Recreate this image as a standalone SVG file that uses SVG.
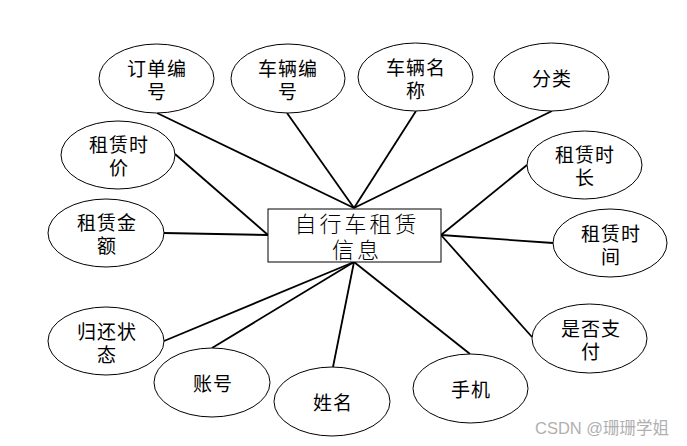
<svg xmlns="http://www.w3.org/2000/svg" width="687" height="446" viewBox="0 0 687 446">
<style>
.e{fill:#fff;stroke:#000;stroke-width:1}
.t{font-family:"Noto Sans CJK SC","Liberation Sans",sans-serif;font-size:19px;fill:#000;text-anchor:middle;dominant-baseline:central;letter-spacing:1px}
.c{font-family:"Noto Sans CJK SC","Liberation Sans",sans-serif;font-size:22px;font-weight:300;fill:#000;text-anchor:middle;dominant-baseline:central;letter-spacing:3px}
.l{stroke:#000;stroke-width:1.8;fill:none}
.w{font-family:"Liberation Sans","Noto Sans CJK SC",sans-serif;font-size:16.5px;fill:#b0b0b0;dominant-baseline:central}
</style>
<rect width="687" height="446" fill="#fff"/>
<g id="connectors">
<line class="l" x1="157" y1="113" x2="354" y2="208"/>
<line class="l" x1="287" y1="113" x2="354" y2="208"/>
<line class="l" x1="416" y1="111" x2="354" y2="208"/>
<line class="l" x1="552" y1="111" x2="354" y2="208"/>
<line class="l" x1="175" y1="154" x2="268" y2="235"/>
<line class="l" x1="164" y1="233" x2="268" y2="235"/>
<line class="l" x1="164" y1="341" x2="354" y2="262"/>
<line class="l" x1="212" y1="348" x2="354" y2="262"/>
<line class="l" x1="333" y1="367" x2="354" y2="262"/>
<line class="l" x1="470" y1="354" x2="354" y2="262"/>
<line class="l" x1="527" y1="165" x2="441" y2="235"/>
<line class="l" x1="553" y1="243" x2="441" y2="235"/>
<line class="l" x1="532" y1="337" x2="441" y2="235"/>
</g>
<g id="center">
<rect x="268" y="209" width="173" height="53" fill="#fff" stroke="#000" stroke-width="1"/>
<text class="c"><tspan x="357" y="221.5">自行车租赁</tspan><tspan x="357" y="247.5">信息</tspan></text>
</g>
<g id="n1"><ellipse class="e" cx="156.5" cy="78.5" rx="57.5" ry="34.5"/><text class="t"><tspan x="157" y="66.5">订单编</tspan><tspan x="157" y="90">号</tspan></text></g>
<g id="n2"><ellipse class="e" cx="288" cy="78.5" rx="57" ry="34.5"/><text class="t"><tspan x="288" y="66.5">车辆编</tspan><tspan x="288" y="90">号</tspan></text></g>
<g id="n3"><ellipse class="e" cx="415.5" cy="77" rx="57.5" ry="34"/><text class="t"><tspan x="416" y="65.5">车辆名</tspan><tspan x="416" y="88.5">称</tspan></text></g>
<g id="n4"><ellipse class="e" cx="551.5" cy="77" rx="57.5" ry="34"/><text class="t" x="552" y="77">分类</text></g>
<g id="n5"><ellipse class="e" cx="118" cy="155" rx="57" ry="34"/><text class="t"><tspan x="119" y="143">租赁时</tspan><tspan x="119" y="166">价</tspan></text></g>
<g id="n6"><ellipse class="e" cx="584.5" cy="165" rx="57.5" ry="34"/><text class="t"><tspan x="585" y="153">租赁时</tspan><tspan x="585" y="176">长</tspan></text></g>
<g id="n7"><ellipse class="e" cx="106" cy="233" rx="58" ry="34"/><text class="t"><tspan x="107" y="221">租赁金</tspan><tspan x="107" y="244">额</tspan></text></g>
<g id="n8"><ellipse class="e" cx="610" cy="243" rx="57" ry="34"/><text class="t"><tspan x="611" y="232">租赁时</tspan><tspan x="611" y="255">间</tspan></text></g>
<g id="n9"><ellipse class="e" cx="106" cy="341" rx="58" ry="34"/><text class="t"><tspan x="107" y="330">归还状</tspan><tspan x="107" y="353">态</tspan></text></g>
<g id="n10"><ellipse class="e" cx="589.5" cy="338.5" rx="57.5" ry="34.5"/><text class="t"><tspan x="591" y="327">是否支</tspan><tspan x="591" y="350">付</tspan></text></g>
<g id="n11"><ellipse class="e" cx="212" cy="382.5" rx="58" ry="34.5"/><text class="t" x="213" y="382">账号</text></g>
<g id="n12"><ellipse class="e" cx="332" cy="401.5" rx="58" ry="34.5"/><text class="t" x="333" y="401">姓名</text></g>
<g id="n13"><ellipse class="e" cx="470.5" cy="388.5" rx="57.5" ry="34.5"/><text class="t" x="471" y="388">手机</text></g>
<text class="w" x="535" y="428">CSDN @珊珊学姐</text>
</svg>
